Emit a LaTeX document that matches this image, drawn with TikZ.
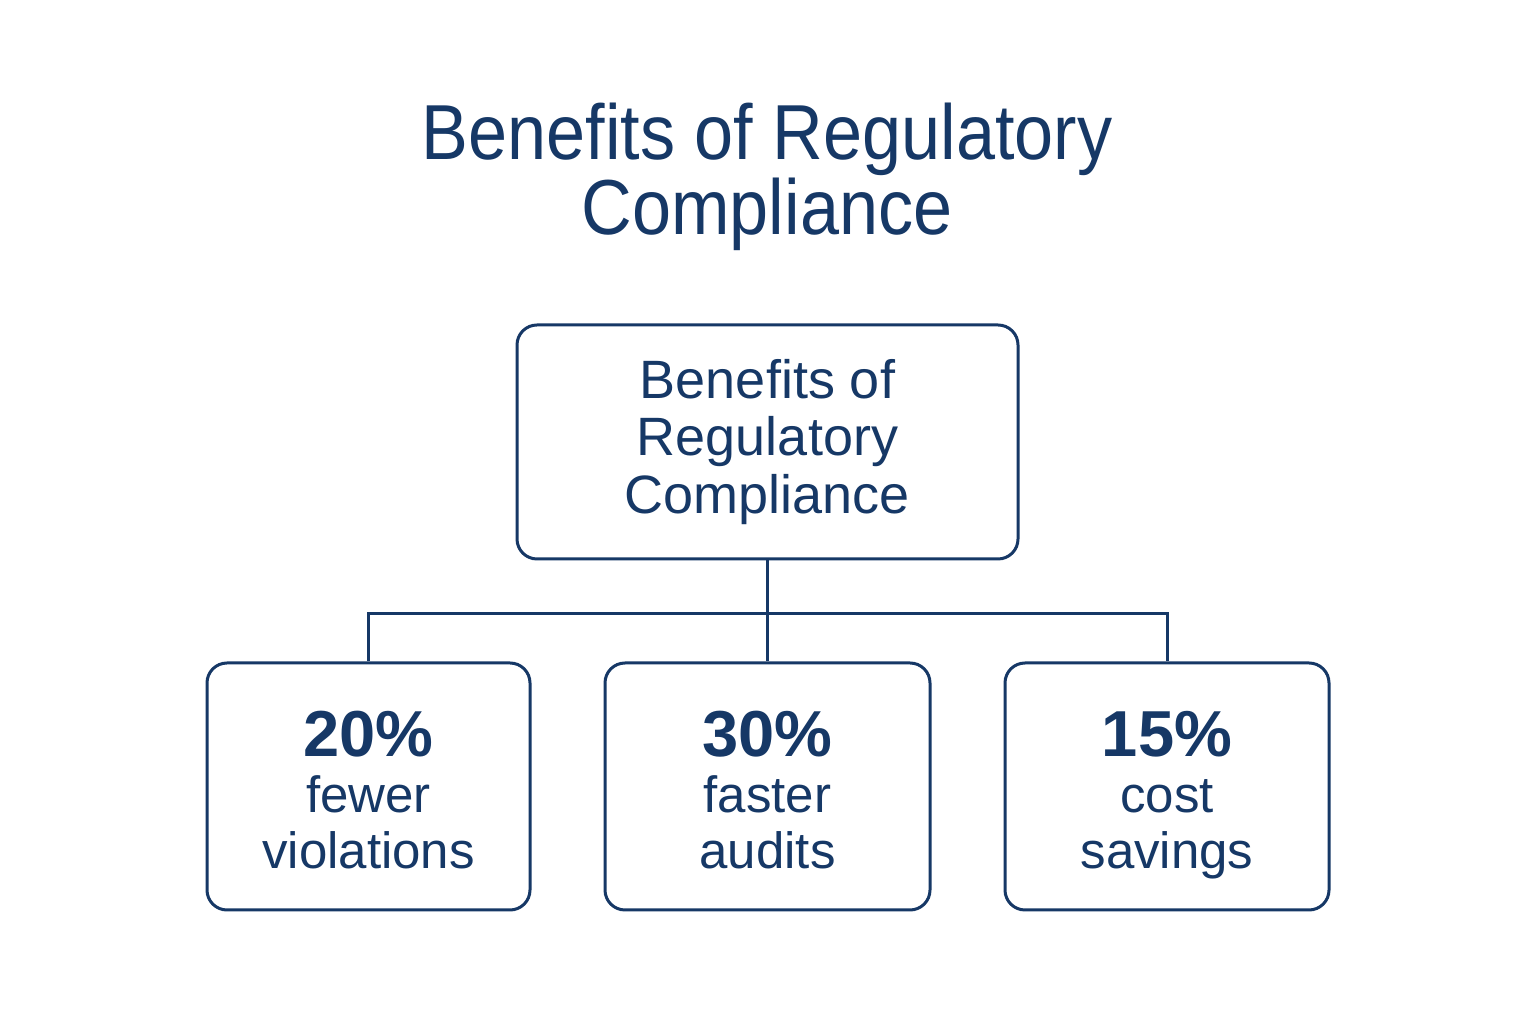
\documentclass[tikz,border=0pt]{standalone}
\usepackage{fontspec}
\setmainfont{Liberation Sans}
\newfontfamily\ttlfont{Liberation Sans}[FakeStretch=0.9]
\definecolor{navy}{RGB}{22,56,102}
\tikzset{%
    box/.style={draw=navy, line width=3pt, rounded corners=20pt, fill=white,
    	align=center, text=navy, inner sep=0pt},
    link/.style={draw=navy, line width=3pt}
}
\newcommand{\bignum}[1]{{\fontsize{65}{65}\selectfont\bfseries
    \rule{0pt}{63pt}#1}}

\begin{document}
\begin{tikzpicture}[x=1pt, y=1pt]
  \useasboundingbox[fill=white] (0,0) rectangle (1536,1024);

  \node (ttl) [align=center, text=navy, inner sep=0pt, anchor=north,
    font=\ttlfont\fontsize{78}{75}\selectfont] at (767,921)
    {Benefits of Regulatory\\Compliance};

  \node (top) [box, minimum width=501pt, minimum height=234pt,
    font=\fontsize{54}{57.5}\selectfont] at (767.5,582)
    {Benefits of\\Regulatory\\Compliance};

  \node (b1) [box, minimum width=323pt, minimum height=247pt,
    font=\fontsize{51}{56}\selectfont] at (368.5,237.5)
    {\bignum{20\%}\\fewer\\violations\vphantom{g}};
  \node (b2) [box, minimum width=325pt, minimum height=247pt,
    font=\fontsize{51}{56}\selectfont] at (767.5,237.5)
    {\bignum{30\%}\\faster\\audits\vphantom{g}};
  \node (b3) [box, minimum width=324pt, minimum height=247pt,
    font=\fontsize{51}{56}\selectfont] at (1167,237.5)
    {\bignum{15\%}\\cost\\savings};

  \coordinate (junc) at (767.5,410);

  \draw [link] (top) -- (junc);
  \draw [link] (b1.north) |- (junc) -| (b3.north);
  \draw [link] (junc) -- (b2.north);

\end{tikzpicture}
\end{document}
